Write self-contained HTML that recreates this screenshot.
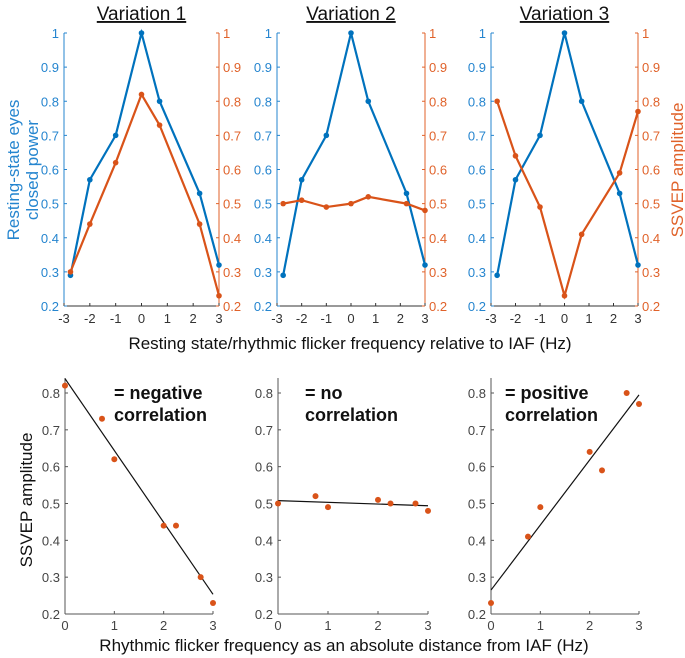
<!DOCTYPE html>
<html><head><meta charset="utf-8"><style>
html,body{margin:0;padding:0;background:#fff;width:685px;height:658px;overflow:hidden}
svg{display:block;font-family:"Liberation Sans",Arial,sans-serif}
</style></head><body>
<svg id="chart" width="685" height="658" viewBox="0 0 685 658" xmlns="http://www.w3.org/2000/svg"></svg>
<script>
const topX = [-2.75, -2, -1, 0, 0.7, 2.25, 3];
const blueVals = [0.29, 0.57, 0.70, 1.0, 0.80, 0.53, 0.32];
const orange1 = [0.30, 0.44, 0.62, 0.82, 0.73, 0.44, 0.23];
const orange2 = [0.50, 0.51, 0.49, 0.50, 0.52, 0.50, 0.48];
const orange3 = [0.80, 0.64, 0.49, 0.23, 0.41, 0.59, 0.77];
const topXTicks = [-3, -2, -1, 0, 1, 2, 3];
const topYTicks = [0.2, 0.3, 0.4, 0.5, 0.6, 0.7, 0.8, 0.9, 1];
const botX = [0, 0.75, 1, 2, 2.25, 2.75, 3];
const bot1 = [0.82, 0.73, 0.62, 0.44, 0.44, 0.30, 0.23];
const bot2 = [0.50, 0.52, 0.49, 0.51, 0.50, 0.50, 0.48];
const bot3 = [0.23, 0.41, 0.49, 0.64, 0.59, 0.80, 0.77];
const botXTicks = [0, 1, 2, 3];
const botYTicks = [0.2, 0.3, 0.4, 0.5, 0.6, 0.7, 0.8];
const titles = ["Variation  1", "Variation  2", "Variation  3"];
const notes = [["= negative", "correlation"], ["= no", "correlation"], ["= positive", "correlation"]];

const svg = document.getElementById('chart');
const NS = 'http://www.w3.org/2000/svg';
const BLUE = '#0072BD', ORANGE = '#D95319', BLUET = '#2585cf', ORANGET = '#e0622a';
function el(tag, attrs, parent) {
  const e = document.createElementNS(NS, tag);
  for (const k in attrs) e.setAttribute(k, attrs[k]);
  (parent || svg).appendChild(e);
  return e;
}
function txt(s, attrs, parent) { const t = el('text', attrs, parent); t.textContent = s; return t; }

const topPanels = [{l: 64, r: 219}, {l: 277, r: 425}, {l: 491, r: 638}];
const topT = 33, topB = 306;
const oranges = [orange1, orange2, orange3];
topPanels.forEach((p, i) => {
  const g = el('g', {});
  
  
  const xs = v => p.l + (v + 3) / 6 * (p.r - p.l);
  const ys = v => topB - (v - 0.2) / 0.8 * (topB - topT);
  const t = txt(titles[i], {x: (p.l + p.r) / 2, y: 20, 'text-anchor': 'middle', 'font-size': 19, fill: '#111', 'text-decoration': 'underline'}, g);
  
  
  el('line', {x1: p.l, x2: p.r, y1: topB, y2: topB, stroke: '#333', 'stroke-width': 1}, g);
  el('line', {x1: p.l, x2: p.l, y1: topT, y2: topB, stroke: BLUET, 'stroke-width': 1}, g);
  el('line', {x1: p.r, x2: p.r, y1: topT, y2: topB, stroke: ORANGET, 'stroke-width': 1}, g);
  topXTicks.forEach(v => {
    el('line', {x1: xs(v), x2: xs(v), y1: topB, y2: topB - 3, stroke: '#333'}, g);
    txt(v, {x: xs(v), y: topB + 17, 'text-anchor': 'middle', 'font-size': 13, fill: '#333'}, g);
  });
  topYTicks.forEach(v => {
    el('line', {x1: p.l, x2: p.l + 3, y1: ys(v), y2: ys(v), stroke: BLUET}, g);
    el('line', {x1: p.r, x2: p.r - 3, y1: ys(v), y2: ys(v), stroke: ORANGET}, g);
    txt(v, {x: p.l - 5, y: ys(v) + 5, 'text-anchor': 'end', 'font-size': 13, fill: BLUET}, g);
    txt(v, {x: p.r + 4, y: ys(v) + 5, 'text-anchor': 'start', 'font-size': 13, fill: ORANGET}, g);
  });
  [[blueVals, BLUE, 'blue-series'], [oranges[i], ORANGE, 'orange-series']].forEach(([vals, c, nm]) => {
    const pl = el('polyline', {points: topX.map((x, k) => xs(x) + ',' + ys(vals[k])).join(' '), fill: 'none', stroke: c, 'stroke-width': 2.2}, g);
    
    
    topX.forEach((x, k) => {
      const d = el('circle', {cx: xs(x), cy: ys(vals[k]), r: 2.8, fill: c}, g);
      
      
    });
  });
});
const yl = txt('', {transform: 'translate(19,170) rotate(-90)', 'text-anchor': 'middle', 'font-size': 17, fill: BLUET});


el('tspan', {x: 0, y: 0}, yl).textContent = 'Resting-state eyes';
el('tspan', {x: 0, y: 19}, yl).textContent = 'closed power';
const yr = txt('SSVEP amplitude', {transform: 'translate(683,170) rotate(-90)', 'text-anchor': 'middle', 'font-size': 17, fill: ORANGET});


const xt = txt('Resting state/rhythmic flicker frequency relative to IAF (Hz)', {x: 350, y: 349, 'text-anchor': 'middle', 'font-size': 17, fill: '#111'});



const botPanels = [{l: 65, r: 213}, {l: 278, r: 428}, {l: 491, r: 639}];
const botT = 378, botB = 614;
const bots = [bot1, bot2, bot3];
const yb = v => botB - (v - 0.2) / 0.6 * (614 - 393);
botPanels.forEach((p, i) => {
  const g = el('g', {});
  
  
  const xs = v => p.l + v / 3 * (p.r - p.l);
  el('line', {x1: p.l, x2: p.r, y1: botB, y2: botB, stroke: '#555'}, g);
  el('line', {x1: p.l, x2: p.l, y1: botT, y2: botB, stroke: '#555'}, g);
  botXTicks.forEach(v => {
    el('line', {x1: xs(v), x2: xs(v), y1: botB, y2: botB - 3, stroke: '#555'}, g);
    txt(v, {x: xs(v), y: botB + 16, 'text-anchor': 'middle', 'font-size': 13, fill: '#444'}, g);
  });
  botYTicks.forEach(v => {
    el('line', {x1: p.l, x2: p.l + 3, y1: yb(v), y2: yb(v), stroke: '#555'}, g);
    txt(v, {x: p.l - 5, y: yb(v) + 5, 'text-anchor': 'end', 'font-size': 13, fill: '#444'}, g);
  });
  const vals = bots[i];
  const n = botX.length;
  const mx = botX.reduce((a, b) => a + b) / n, my = vals.reduce((a, b) => a + b) / n;
  let sxy = 0, sxx = 0;
  botX.forEach((x, k) => { sxy += (x - mx) * (vals[k] - my); sxx += (x - mx) ** 2; });
  const slope = sxy / sxx, icp = my - slope * mx;
  const fl = el('line', {x1: xs(0), y1: yb(icp), x2: xs(3), y2: yb(icp + 3 * slope), stroke: '#111', 'stroke-width': 1.2}, g);
  
  
  botX.forEach((x, k) => {
    const d = el('circle', {cx: xs(x), cy: yb(vals[k]), r: 3, fill: ORANGE}, g);
    
    
  });
  const nt = txt('', {'font-size': 18, 'font-weight': 'bold', fill: '#111'}, g);
  
  
  const ax = p.l + (i === 1 ? 27 : i === 0 ? 49 : 14);
  el('tspan', {x: ax, y: 399}, nt).textContent = notes[i][0];
  el('tspan', {x: ax, y: 421}, nt).textContent = notes[i][1];
});
const by = txt('SSVEP amplitude', {transform: 'translate(32,500) rotate(-90)', 'text-anchor': 'middle', 'font-size': 17, fill: '#111'});


const bx = txt('Rhythmic flicker frequency as an absolute distance from IAF (Hz)', {x: 344, y: 651, 'text-anchor': 'middle', 'font-size': 17, fill: '#111'});


</script>
</body></html>
